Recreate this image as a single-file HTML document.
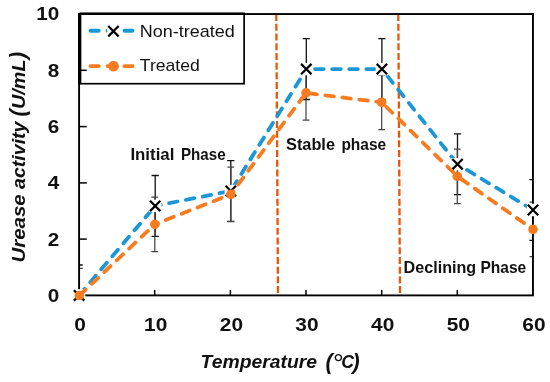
<!DOCTYPE html>
<html><head><meta charset="utf-8"><title>Urease activity vs temperature</title>
<style>html,body{margin:0;padding:0;background:#fff}svg{display:block}</style></head>
<body>
<svg width="550" height="382" viewBox="0 0 550 382">
<defs><clipPath id="pc"><rect x="80" y="14" width="452" height="281"/></clipPath></defs>
<rect width="550" height="382" fill="#fff"/>
<line x1="276.3" y1="14.05" x2="278" y2="293.9" stroke="#E8560A" stroke-width="2.3" stroke-dasharray="7 2.716"/>
<line x1="398.3" y1="14.05" x2="400" y2="293.9" stroke="#E8560A" stroke-width="2.3" stroke-dasharray="7 2.716"/>
<rect x="79.1" y="14.05" width="453.85" height="281.34999999999997" fill="none" stroke="#000" stroke-width="1.9"/>
<line x1="79.1" y1="239.1" x2="86.8" y2="239.1" stroke="#000" stroke-width="1.5"/>
<line x1="79.1" y1="182.9" x2="86.8" y2="182.9" stroke="#000" stroke-width="1.5"/>
<line x1="79.1" y1="126.6" x2="86.8" y2="126.6" stroke="#000" stroke-width="1.5"/>
<line x1="79.1" y1="70.3" x2="86.8" y2="70.3" stroke="#000" stroke-width="1.5"/>
<line x1="154.7" y1="295.4" x2="154.7" y2="289.9" stroke="#000" stroke-width="1.5"/>
<line x1="230.4" y1="295.4" x2="230.4" y2="289.9" stroke="#000" stroke-width="1.5"/>
<line x1="306.0" y1="295.4" x2="306.0" y2="289.9" stroke="#000" stroke-width="1.5"/>
<line x1="381.7" y1="295.4" x2="381.7" y2="289.9" stroke="#000" stroke-width="1.5"/>
<line x1="457.3" y1="295.4" x2="457.3" y2="289.9" stroke="#000" stroke-width="1.5"/>
<line x1="79.1" y1="295.4" x2="155.2" y2="205.9" stroke="#1B96D6" stroke-width="3.8" stroke-linecap="round" stroke-dasharray="8.6 8.5" stroke-dashoffset="0"/>
<line x1="155.2" y1="205.9" x2="230.8" y2="191" stroke="#1B96D6" stroke-width="3.8" stroke-linecap="round" stroke-dasharray="8.6 8.5" stroke-dashoffset="2.9"/>
<line x1="230.8" y1="191" x2="306.3" y2="69.1" stroke="#1B96D6" stroke-width="3.8" stroke-linecap="round" stroke-dasharray="8.6 8.5" stroke-dashoffset="-3"/>
<line x1="306.3" y1="69.1" x2="381.9" y2="69.1" stroke="#1B96D6" stroke-width="3.8" stroke-linecap="round" stroke-dasharray="8.6 8.5" stroke-dashoffset="-8.75"/>
<line x1="381.9" y1="69.1" x2="457.5" y2="164.2" stroke="#1B96D6" stroke-width="3.8" stroke-linecap="round" stroke-dasharray="8.6 8.5" stroke-dashoffset="-9"/>
<line x1="457.5" y1="164.2" x2="533" y2="210" stroke="#1B96D6" stroke-width="3.8" stroke-linecap="round" stroke-dasharray="8.6 8.5" stroke-dashoffset="6"/>
<g clip-path="url(#pc)">
<path d="M75.5,265.0H82.69999999999999M75.5,325.79999999999995H82.69999999999999" stroke="#111" stroke-width="1.3" fill="none"/>
<path d="M155.2,175.5V236.3M151.6,175.5H158.79999999999998M151.6,236.3H158.79999999999998" stroke="#111" stroke-width="1.3" fill="none"/>
<path d="M230.8,160.6V221.4M227.20000000000002,160.6H234.4M227.20000000000002,221.4H234.4" stroke="#111" stroke-width="1.3" fill="none"/>
<path d="M306.3,38.699999999999996V99.5M302.7,38.699999999999996H309.90000000000003M302.7,99.5H309.90000000000003" stroke="#111" stroke-width="1.3" fill="none"/>
<path d="M381.9,38.699999999999996V99.5M378.29999999999995,38.699999999999996H385.5M378.29999999999995,99.5H385.5" stroke="#111" stroke-width="1.3" fill="none"/>
<path d="M457.5,133.79999999999998V194.6M453.9,133.79999999999998H461.1M453.9,194.6H461.1" stroke="#111" stroke-width="1.3" fill="none"/>
<path d="M529.4,179.6H536.6M529.4,240.4H536.6" stroke="#111" stroke-width="1.3" fill="none"/>
</g>
<g clip-path="url(#pc)">
<path d="M76.0,268.3H82.80000000000001M76.0,322.7H82.80000000000001" stroke="#454545" stroke-width="1.25" fill="none"/>
<path d="M154.8,197.10000000000002V251.5M151.4,197.10000000000002H158.20000000000002M151.4,251.5H158.20000000000002" stroke="#454545" stroke-width="1.25" fill="none"/>
<path d="M230.8,167.20000000000002V221.6M227.4,167.20000000000002H234.20000000000002M227.4,221.6H234.20000000000002" stroke="#454545" stroke-width="1.25" fill="none"/>
<path d="M306,65.7V120.10000000000001M302.6,65.7H309.4M302.6,120.10000000000001H309.4" stroke="#454545" stroke-width="1.25" fill="none"/>
<path d="M381.7,75.2V129.6M378.3,75.2H385.09999999999997M378.3,129.6H385.09999999999997" stroke="#454545" stroke-width="1.25" fill="none"/>
<path d="M457.3,149.10000000000002V203.5M453.90000000000003,149.10000000000002H460.7M453.90000000000003,203.5H460.7" stroke="#454545" stroke-width="1.25" fill="none"/>
<path d="M529.6,202.20000000000002H536.4M529.6,256.6H536.4" stroke="#454545" stroke-width="1.25" fill="none"/>
</g>
<rect x="72.89999999999999" y="289.2" width="12.4" height="12.4" fill="#fff"/><path d="M73.89999999999999,290.2L84.3,300.59999999999997M73.89999999999999,300.59999999999997L84.3,290.2" stroke="#000" stroke-width="2.2" fill="none"/>
<rect x="149.0" y="199.70000000000002" width="12.4" height="12.4" fill="#fff"/><path d="M150.0,200.70000000000002L160.39999999999998,211.1M150.0,211.1L160.39999999999998,200.70000000000002" stroke="#000" stroke-width="2.2" fill="none"/>
<rect x="224.60000000000002" y="184.8" width="12.4" height="12.4" fill="#fff"/><path d="M225.60000000000002,185.8L236.0,196.2M225.60000000000002,196.2L236.0,185.8" stroke="#000" stroke-width="2.2" fill="none"/>
<rect x="300.1" y="62.89999999999999" width="12.4" height="12.4" fill="#fff"/><path d="M301.1,63.89999999999999L311.5,74.3M301.1,74.3L311.5,63.89999999999999" stroke="#000" stroke-width="2.2" fill="none"/>
<rect x="375.7" y="62.89999999999999" width="12.4" height="12.4" fill="#fff"/><path d="M376.7,63.89999999999999L387.09999999999997,74.3M376.7,74.3L387.09999999999997,63.89999999999999" stroke="#000" stroke-width="2.2" fill="none"/>
<rect x="451.3" y="158.0" width="12.4" height="12.4" fill="#fff"/><path d="M452.3,159.0L462.7,169.39999999999998M452.3,169.39999999999998L462.7,159.0" stroke="#000" stroke-width="2.2" fill="none"/>
<rect x="526.8" y="203.8" width="12.4" height="12.4" fill="#fff"/><path d="M527.8,204.8L538.2,215.2M527.8,215.2L538.2,204.8" stroke="#000" stroke-width="2.2" fill="none"/>
<line x1="79.4" y1="295.5" x2="154.8" y2="224.3" stroke="#F97B20" stroke-width="3.8" stroke-linecap="round" stroke-dasharray="8.6 8.5" stroke-dashoffset="0"/>
<line x1="154.8" y1="224.3" x2="230.8" y2="194.4" stroke="#F97B20" stroke-width="3.8" stroke-linecap="round" stroke-dasharray="8.6 8.5" stroke-dashoffset="5.3"/>
<line x1="230.8" y1="194.4" x2="306" y2="92.9" stroke="#F97B20" stroke-width="3.8" stroke-linecap="round" stroke-dasharray="8.6 8.5" stroke-dashoffset="4.7"/>
<line x1="306" y1="92.9" x2="381.7" y2="102.4" stroke="#F97B20" stroke-width="3.8" stroke-linecap="round" stroke-dasharray="8.6 8.5" stroke-dashoffset="-2.4"/>
<line x1="381.7" y1="102.4" x2="457.3" y2="176.3" stroke="#F97B20" stroke-width="3.8" stroke-linecap="round" stroke-dasharray="8.6 8.5" stroke-dashoffset="-6.2"/>
<line x1="457.3" y1="176.3" x2="533" y2="229.4" stroke="#F97B20" stroke-width="3.8" stroke-linecap="round" stroke-dasharray="8.6 8.5" stroke-dashoffset="-4.4"/>
<circle cx="79.4" cy="295.5" r="4.8" fill="#F97B20"/>
<circle cx="154.8" cy="224.3" r="4.8" fill="#F97B20"/>
<circle cx="230.8" cy="194.4" r="4.8" fill="#F97B20"/>
<circle cx="306" cy="92.9" r="4.8" fill="#F97B20"/>
<circle cx="381.7" cy="102.4" r="4.8" fill="#F97B20"/>
<circle cx="457.3" cy="176.3" r="4.8" fill="#F97B20"/>
<circle cx="533" cy="229.4" r="4.8" fill="#F97B20"/>
<rect x="80.5" y="13.3" width="163.6" height="70.4" fill="#fff" stroke="#000" stroke-width="1.7"/>
<path d="M79.1,84.6V14.05H245" fill="none" stroke="#000" stroke-width="2" stroke-linejoin="miter"/>
<line x1="90.5" y1="30.8" x2="132.5" y2="30.8" stroke="#1B96D6" stroke-width="3.9" stroke-linecap="round" stroke-dasharray="8.2 8.8"/>
<line x1="90.5" y1="66.1" x2="132.5" y2="66.1" stroke="#F97B20" stroke-width="3.9" stroke-linecap="round" stroke-dasharray="8.2 8.8"/>
<rect x="107.2" y="25.0" width="12.4" height="12.4" fill="#fff"/><path d="M108.2,26.0L118.60000000000001,36.4M108.2,36.4L118.60000000000001,26.0" stroke="#000" stroke-width="2.2" fill="none"/>
<circle cx="113.5" cy="66.2" r="5.4" fill="#F97B20"/>
<line x1="79.1" y1="70.3" x2="86.8" y2="70.3" stroke="#000" stroke-width="1.5"/>
<text x="139.8" y="36.6" font-family="Liberation Sans, Arial, sans-serif" font-size="16.4" fill="#111" textLength="95" lengthAdjust="spacingAndGlyphs">Non-treated</text>
<text x="139.8" y="71" font-family="Liberation Sans, Arial, sans-serif" font-size="16.4" fill="#111" textLength="60" lengthAdjust="spacingAndGlyphs">Treated</text>
<text transform="translate(59.2,301.8) scale(1.09,1)" font-family="Liberation Sans, Arial, sans-serif" font-weight="bold" font-size="19" fill="#111" text-anchor="end">0</text>
<text transform="translate(59.2,245.5) scale(1.09,1)" font-family="Liberation Sans, Arial, sans-serif" font-weight="bold" font-size="19" fill="#111" text-anchor="end">2</text>
<text transform="translate(59.2,189.3) scale(1.09,1)" font-family="Liberation Sans, Arial, sans-serif" font-weight="bold" font-size="19" fill="#111" text-anchor="end">4</text>
<text transform="translate(59.2,133.0) scale(1.09,1)" font-family="Liberation Sans, Arial, sans-serif" font-weight="bold" font-size="19" fill="#111" text-anchor="end">6</text>
<text transform="translate(59.2,76.7) scale(1.09,1)" font-family="Liberation Sans, Arial, sans-serif" font-weight="bold" font-size="19" fill="#111" text-anchor="end">8</text>
<text transform="translate(59.2,20.4) scale(1.09,1)" font-family="Liberation Sans, Arial, sans-serif" font-weight="bold" font-size="19" fill="#111" text-anchor="end">10</text>
<text transform="translate(80.1,330.9) scale(1.1,1)" font-family="Liberation Sans, Arial, sans-serif" font-weight="bold" font-size="19" fill="#111" text-anchor="middle">0</text>
<text transform="translate(155.7,330.9) scale(1.1,1)" font-family="Liberation Sans, Arial, sans-serif" font-weight="bold" font-size="19" fill="#111" text-anchor="middle">10</text>
<text transform="translate(231.4,330.9) scale(1.1,1)" font-family="Liberation Sans, Arial, sans-serif" font-weight="bold" font-size="19" fill="#111" text-anchor="middle">20</text>
<text transform="translate(307.0,330.9) scale(1.1,1)" font-family="Liberation Sans, Arial, sans-serif" font-weight="bold" font-size="19" fill="#111" text-anchor="middle">30</text>
<text transform="translate(382.7,330.9) scale(1.1,1)" font-family="Liberation Sans, Arial, sans-serif" font-weight="bold" font-size="19" fill="#111" text-anchor="middle">40</text>
<text transform="translate(458.3,330.9) scale(1.1,1)" font-family="Liberation Sans, Arial, sans-serif" font-weight="bold" font-size="19" fill="#111" text-anchor="middle">50</text>
<text transform="translate(534.0,330.9) scale(1.1,1)" font-family="Liberation Sans, Arial, sans-serif" font-weight="bold" font-size="19" fill="#111" text-anchor="middle">60</text>
<text x="130.4" y="160.3" font-family="Liberation Sans, Arial, sans-serif" font-weight="bold" font-size="16.2" fill="#111" textLength="44" lengthAdjust="spacingAndGlyphs">Initial</text>
<text x="181" y="160.3" font-family="Liberation Sans, Arial, sans-serif" font-weight="bold" font-size="16.2" fill="#111" textLength="44.6" lengthAdjust="spacingAndGlyphs">Phase</text>
<text x="286" y="150.4" font-family="Liberation Sans, Arial, sans-serif" font-weight="bold" font-size="16.2" fill="#111" textLength="49" lengthAdjust="spacingAndGlyphs">Stable</text>
<text x="341.4" y="150.4" font-family="Liberation Sans, Arial, sans-serif" font-weight="bold" font-size="16.2" fill="#111" textLength="44.8" lengthAdjust="spacingAndGlyphs">phase</text>
<text x="403.6" y="272.5" font-family="Liberation Sans, Arial, sans-serif" font-weight="bold" font-size="16.2" fill="#111" textLength="72.6" lengthAdjust="spacingAndGlyphs">Declining</text>
<text x="480.4" y="272.5" font-family="Liberation Sans, Arial, sans-serif" font-weight="bold" font-size="16.2" fill="#111" textLength="45.8" lengthAdjust="spacingAndGlyphs">Phase</text>
<text x="200.6" y="368" font-family="Liberation Sans, Arial, sans-serif" font-weight="bold" font-style="italic" font-size="18.7" fill="#111" textLength="116.5" lengthAdjust="spacingAndGlyphs">Temperature</text>
<text x="325.6" y="368.7" font-family="Liberation Sans, Arial, sans-serif" font-weight="bold" font-style="italic" font-size="21.5" fill="#111">(</text>
<text x="333" y="372.6" font-family="Liberation Sans, Arial, sans-serif" font-size="27" fill="#111">°</text>
<text x="341.3" y="368" font-family="Liberation Sans, Arial, sans-serif" font-weight="bold" font-style="italic" font-size="19.2" fill="#111" textLength="12.8" lengthAdjust="spacingAndGlyphs">C</text>
<text x="352.6" y="368.7" font-family="Liberation Sans, Arial, sans-serif" font-weight="bold" font-style="italic" font-size="21.5" fill="#111">)</text>
<g transform="translate(24.8,262) rotate(-90)">
<text x="-0.6" y="0" font-family="Liberation Sans, Arial, sans-serif" font-weight="bold" font-style="italic" font-size="18.8" fill="#111" textLength="68.3" lengthAdjust="spacingAndGlyphs">Urease</text>
<text x="73" y="0" font-family="Liberation Sans, Arial, sans-serif" font-weight="bold" font-style="italic" font-size="18.8" fill="#111" textLength="67.5" lengthAdjust="spacingAndGlyphs">activity</text>
<text x="145.6" y="0" font-family="Liberation Sans, Arial, sans-serif" font-weight="bold" font-style="italic" font-size="21.5" fill="#111">(</text>
<text x="153" y="0" font-family="Liberation Sans, Arial, sans-serif" font-weight="bold" font-style="italic" font-size="18.8" fill="#111" textLength="49.5" lengthAdjust="spacingAndGlyphs">U/mL</text>
<text x="203" y="0" font-family="Liberation Sans, Arial, sans-serif" font-weight="bold" font-style="italic" font-size="21.5" fill="#111">)</text>
</g>
</svg>
</body></html>
